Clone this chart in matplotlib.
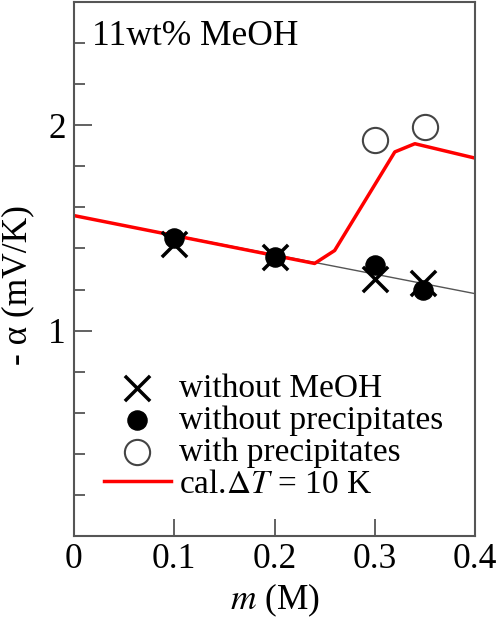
import matplotlib
matplotlib.use('Agg')
import matplotlib.pyplot as plt
from matplotlib.ticker import FixedLocator

# data
m_nomeoh = [0.10, 0.20, 0.30, 0.348]
a_nomeoh = [1.42, 1.36, 1.25, 1.23]

m_noprec = [0.10, 0.20, 0.30, 0.348]
a_noprec = [1.45, 1.36, 1.32, 1.20]

m_prec = [0.30, 0.35]
a_prec = [1.93, 1.99]

m_calc = [0.0, 0.24, 0.26, 0.32, 0.34, 0.40]
a_calc = [1.56, 1.327, 1.39, 1.87, 1.91, 1.84]

m_base = [0.0, 0.40]
a_base = [1.56, 1.18]

xticks = [0, 0.1, 0.2, 0.3, 0.4]
xticklabels = ['0', '0.1', '0.2', '0.3', '0.4']
yticks = [1, 2]
yminor = [0.2, 0.4, 0.6, 0.8, 1.2, 1.4, 1.6, 1.8, 2.2, 2.4]

plt.rcParams['font.family'] = ['Liberation Serif', 'DejaVu Serif']
plt.rcParams['mathtext.fontset'] = 'stix'

fig = plt.figure(figsize=(4.98, 6.24), dpi=100)
ax = fig.add_axes([74 / 498, 88 / 624, 401 / 498, 534 / 624])

ax.plot(m_base, a_base, color='#555555', lw=1.0, zorder=1)
ax.plot(m_calc, a_calc, color='#ff0000', lw=2.5, zorder=2, label=r'cal.$\Delta T$ = 10 K')
ax.scatter(m_nomeoh, a_nomeoh, marker='x', s=330, color='black', linewidths=2.5, zorder=3,
           label='without MeOH')
ax.scatter(m_noprec, a_noprec, marker='o', s=190, color='black', zorder=3,
           label='without precipitates')
ax.scatter(m_prec, a_prec, marker='o', s=330, facecolors='white', edgecolors='#444444',
           linewidths=1.5, zorder=3, label='with precipitates')

ax.set_xlim(0, 0.4)
ax.set_ylim(0, 2.6)

ax.xaxis.set_major_locator(FixedLocator(xticks))
ax.set_xticklabels(xticklabels)
ax.yaxis.set_major_locator(FixedLocator(yticks))
ax.yaxis.set_minor_locator(FixedLocator(yminor))
ax.tick_params(axis='both', which='both', direction='in', color='#555555', width=1.3,
               labelsize=25.5, top=False, right=False)
ax.tick_params(axis='x', which='major', length=12, pad=5)
ax.tick_params(axis='y', which='major', length=13, pad=6)
ax.tick_params(axis='y', which='minor', length=8)

for s in ax.spines.values():
    s.set_color('#555555')
    s.set_linewidth(1.5)

ax.set_xlabel(r'$m$ (M)', fontsize=25.5, labelpad=4)
ax.set_ylabel('- α (mV/K)', fontsize=25.5)
ax.yaxis.set_label_coords(-0.10, 0.47)

ax.text(0.045, 0.9195, '11wt% MeOH', transform=ax.transAxes, fontsize=25.5,
        ha='left', va='baseline')

h, l = ax.get_legend_handles_labels()
order = [1, 2, 3, 0]
ax.legend([h[i] for i in order], [l[i] for i in order], loc='upper left',
          bbox_to_anchor=(0.075, 0.305), frameon=False, fontsize=24,
          handlelength=2.0, handletextpad=0.25, labelspacing=0.05, borderpad=0,
          borderaxespad=0)

fig.savefig('out.png', dpi=100)
